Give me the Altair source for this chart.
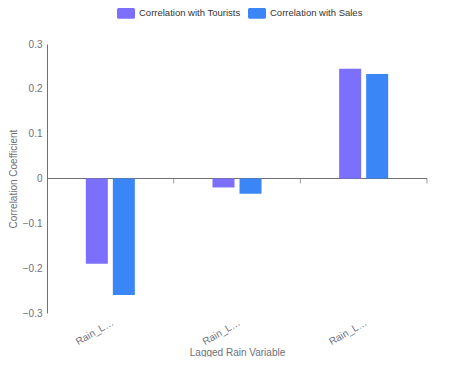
import altair as alt
import pandas as pd

categories = ["Rain_Lag1", "Rain_Lag2", "Rain_Lag3"]
series = ["Correlation with Tourists", "Correlation with Sales"]
tourists = [-0.19, -0.02, 0.245]
sales = [-0.26, -0.034, 0.233]

rows = []
for c, t, s in zip(categories, tourists, sales):
    rows.append({"cat": c, "series": series[0], "value": t})
    rows.append({"cat": c, "series": series[1], "value": s})
df = pd.DataFrame(rows)
cat_df = pd.DataFrame({"cat": categories})

GREY = "#6E7079"
FONT = "Liberation Sans"
W, H = 380, 269

rounded = ("M-0.8,-0.6 H0.8 A0.2,0.2 0 0 1 1,-0.4 V0.4 A0.2,0.2 0 0 1 0.8,0.6 "
           "H-0.8 A0.2,0.2 0 0 1 -1,0.4 V-0.4 A0.2,0.2 0 0 1 -0.8,-0.6 Z")

yscale = alt.Scale(domain=[-0.3, 0.3], nice=False)
xaxis = alt.Axis(title="Lagged Rain Variable", labelAngle=-30, labelAlign="right",
                 labelBaseline="top", labelLimit=42, labelColor=GREY, labelFontSize=10,
                 labelFont=FONT, titleFont=FONT, titleFontSize=10, titleFontWeight="normal",
                 titleColor=GREY, domain=False, ticks=False, titlePadding=1, labelPadding=4)
yaxis = alt.Axis(title="Correlation Coefficient", values=[-0.3, -0.2, -0.1, 0, 0.1, 0.2, 0.3],
                 format=".1~f", grid=False, ticks=False, domainColor=GREY,
                 labelColor=GREY, labelFontSize=10, labelFont=FONT, labelPadding=5,
                 titleFont=FONT, titleFontSize=10, titleFontWeight="normal",
                 titleColor=GREY, titlePadding=4)

bars = alt.Chart(df).mark_bar().encode(
    x=alt.X("cat:N", sort=categories, scale=alt.Scale(paddingInner=0.613, paddingOuter=0.3065),
            axis=xaxis),
    xOffset=alt.XOffset("series:N", sort=series, scale=alt.Scale(paddingInner=0.185)),
    y=alt.Y("value:Q", scale=yscale, axis=yaxis),
    color=alt.Color("series:N", sort=series,
                    scale=alt.Scale(domain=series, range=["#7B6FFB", "#3B86F7"]),
                    legend=alt.Legend(title=None, orient="none", direction="horizontal",
                                      legendX=70, legendY=-40, symbolType=rounded,
                                      symbolSize=324, symbolStrokeWidth=0, symbolOpacity=1,
                                      labelFont=FONT, labelFontSize=9.5, labelColor="#333333",
                                      columnPadding=7)),
)

zero_line = alt.Chart(cat_df).mark_rule(color=GREY, strokeWidth=1).encode(
    y=alt.Y(datum=0, scale=yscale, axis=yaxis),
)

zero_ticks = alt.Chart(cat_df).mark_tick(color=GREY, orient="vertical", size=5,
                                         thickness=1, yOffset=2.5).encode(
    x=alt.X("cat:N", sort=categories, scale=alt.Scale(paddingInner=0, paddingOuter=0),
            axis=None, bandPosition=1),
    y=alt.Y(datum=0, scale=yscale, axis=yaxis),
)

chart = alt.layer(zero_line, bars, zero_ticks).resolve_scale(x="independent").properties(
    width=W, height=H,
    autosize=alt.AutoSizeParams(type="none"),
    padding={"left": 39, "top": 36, "right": 39, "bottom": 44},
).configure_view(stroke=None)

chart.save("out.html", embed_options={"renderer": "svg", "actions": False})
